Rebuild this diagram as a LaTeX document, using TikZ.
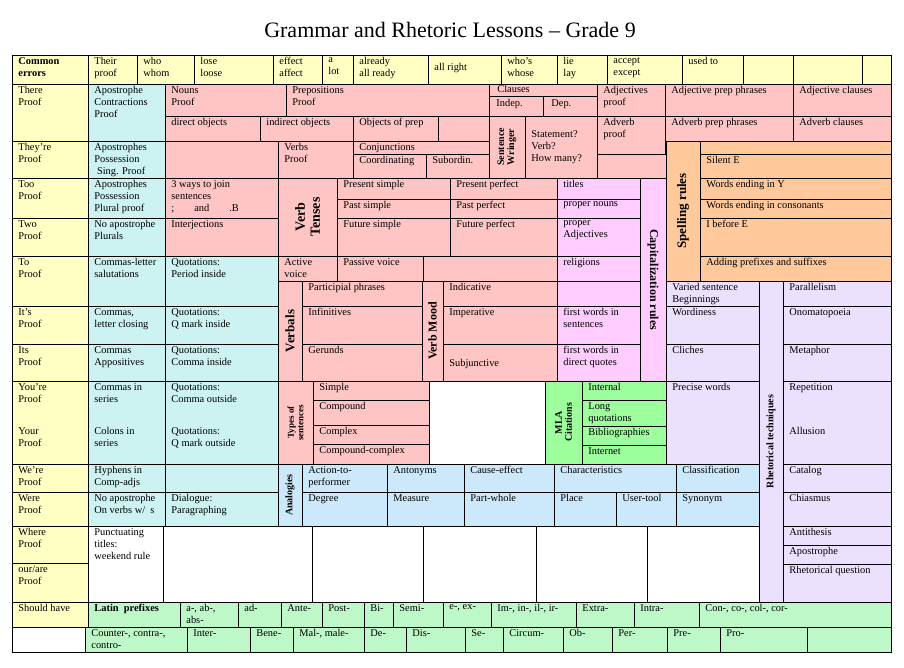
\documentclass[tikz,border=0pt]{standalone}
\usepackage{fontspec}
\setmainfont{Liberation Serif}
\definecolor{Y}{HTML}{FFFFC4}
\definecolor{C}{HTML}{CCF2F2}
\definecolor{P}{HTML}{FFC4C4}
\definecolor{M}{HTML}{FFCCFF}
\definecolor{O}{HTML}{FFC99B}
\definecolor{R}{HTML}{ECE0FF}
\definecolor{G}{HTML}{9CFF9C}
\definecolor{B}{HTML}{CCE9FC}
\definecolor{L}{HTML}{BEF8C8}
\newcommand\cell[6]{\filldraw[fill=#5] (#1,#2) rectangle (#3,#4); \node[txt] at (#1+6,#2+2) {#6};}
\newcommand\vcell[8]{\filldraw[fill=#5] (#1,#2) rectangle (#3,#4); \node[vtxt,rotate=#6,font=#8] at ({(#1+#3)/2},{(#2+#4)/2}) {#7};}
\newcommand\tx[3]{\node[txt] at (#1+6,#2+2) {#3};}
\begin{document}
\begin{tikzpicture}[x=1pt,y=-1pt,line width=0.8pt,
  txt/.style={anchor=north west,inner sep=0pt,align=left,font=\fontsize{10.4}{12}\selectfont},
  vtxt/.style={inner sep=0pt,align=center}]
\useasboundingbox (0,0) rectangle (904,667);
\node[font=\fontsize{22}{24}\selectfont] (title) at (450,30) {Grammar and Rhetoric Lessons -- Grade 9};
% header
\cell{12}{55}{88}{84}{Y}{\textbf{Common}\\\textbf{errors}}
\cell{88}{55}{137}{84}{Y}{Their\\proof}
\cell{137}{55}{194}{84}{Y}{who\\whom}
\cell{194}{55}{273}{84}{Y}{lose\\loose}
\cell{273}{55}{322}{84}{Y}{effect\\affect}
\cell{322}{55}{353}{84}{Y}{a\\lot}
\cell{353}{55}{428}{84}{Y}{already\\all ready}
\filldraw[fill=Y] (428,55) rectangle (501,84);
\tx{428}{61}{all right}
\cell{501}{55}{557}{84}{Y}{who’s\\whose}
\cell{557}{55}{607}{84}{Y}{lie\\lay}
\cell{607}{55}{682}{84}{Y}{accept\\except}
\cell{682}{55}{743}{84}{Y}{used to}
\cell{743}{55}{793}{84}{Y}{}
\cell{793}{55}{862}{84}{Y}{}
\cell{862}{55}{891}{84}{Y}{}
% col1
\cell{12}{84}{88}{141}{Y}{There\\Proof}
\cell{12}{141}{88}{178}{Y}{They’re\\Proof}
\cell{12}{178}{88}{218}{Y}{Too\\Proof}
\cell{12}{218}{88}{256}{Y}{Two\\Proof}
\cell{12}{256}{88}{306}{Y}{To\\Proof}
\cell{12}{306}{88}{344}{Y}{It’s\\Proof}
\cell{12}{344}{88}{381}{Y}{Its\\Proof}
\cell{12}{381}{88}{464}{Y}{You’re\\Proof}
\tx{12}{425}{Your\\Proof}
\cell{12}{464}{88}{492}{Y}{We’re\\Proof}
\cell{12}{492}{88}{526}{Y}{Were\\Proof}
\cell{12}{526}{88}{563}{Y}{Where\\Proof}
\cell{12}{563}{88}{602}{Y}{our/are\\Proof}
\cell{12}{602}{88}{627}{Y}{Should have}
\cell{12}{627}{85}{652}{white}{}
% col2
\cell{88}{84}{165}{141}{C}{Apostrophe\\Contractions\\Proof}
\cell{88}{141}{165}{178}{C}{Apostrophes\\Possession\\\ Sing. Proof}
\cell{88}{178}{165}{218}{C}{Apostrophes\\Possession\\Plural proof}
\cell{88}{218}{165}{256}{C}{No apostrophe\\Plurals}
\cell{88}{256}{165}{306}{C}{Commas-letter\\salutations}
\cell{88}{306}{165}{344}{C}{Commas,\\letter closing}
\cell{88}{344}{165}{381}{C}{Commas\\Appositives}
\cell{88}{381}{165}{464}{C}{Commas in\\series}
\tx{88}{425}{Colons in\\series}
\cell{88}{464}{165}{492}{C}{Hyphens in\\Comp-adjs}
\cell{88}{492}{165}{526}{C}{No apostrophe\\On verbs w/\ \ s}
\cell{88}{526}{163}{602}{white}{Punctuating\\titles:\\weekend rule}
% col3 cyan
\cell{165}{256}{278}{306}{C}{Quotations:\\Period inside}
\cell{165}{306}{278}{344}{C}{Quotations:\\Q mark inside}
\cell{165}{344}{278}{381}{C}{Quotations:\\Comma inside}
\cell{165}{381}{278}{464}{C}{Quotations:\\Comma outside}
\tx{165}{425}{Quotations:\\Q mark outside}
\cell{165}{464}{278}{492}{C}{}
\cell{165}{492}{278}{526}{C}{Dialogue:\\Paragraphing}
% pink top
\cell{165}{84}{286}{116}{P}{Nouns\\Proof}
\cell{286}{84}{489}{116}{P}{Prepositions\\Proof}
\filldraw[fill=P] (489,84) rectangle (597,96); \node[txt] at (497,85) {Clauses};
\filldraw[fill=P] (489,96) rectangle (543,116); \node[txt] at (496,99) {Indep.};
\filldraw[fill=P] (543,96) rectangle (597,116); \node[txt] at (551,99) {Dep.};
\cell{165}{116}{260}{141}{P}{direct objects}
\cell{260}{116}{353}{141}{P}{indirect objects}
\cell{353}{116}{438}{141}{P}{Objects of prep}
\cell{438}{116}{489}{141}{P}{}
\cell{165}{141}{278}{178}{P}{}
\cell{278}{141}{353}{178}{P}{Verbs\\Proof}
\cell{353}{141}{489}{154}{P}{Conjunctions}
\cell{353}{154}{426}{178}{P}{Coordinating}
\cell{426}{154}{489}{178}{P}{Subordin.}
\vcell{489}{116}{525}{178}{P}{90}{Sentence\\Wringer}{\fontsize{10}{10}\selectfont\bfseries}
\filldraw[fill=P] (525,116) rectangle (597,178); \tx{525}{128}{Statement?\\Verb?\\How many?}
\cell{597}{84}{665}{116}{P}{Adjectives\\proof}
\cell{665}{84}{793}{116}{P}{Adjective prep phrases}
\cell{793}{84}{891}{116}{P}{Adjective clauses}
\cell{597}{116}{665}{154}{P}{Adverb\\proof}
\cell{597}{154}{666}{178}{P}{}
\cell{665}{116}{793}{141}{P}{Adverb prep phrases}
\cell{793}{116}{891}{141}{P}{Adverb clauses}
% spelling
\vcell{666}{141}{700}{281}{O}{90}{Spelling rules}{\fontsize{13}{13}\selectfont\bfseries}
\cell{700}{141}{891}{154}{O}{}
\cell{700}{154}{891}{178}{O}{Silent E}
\cell{700}{178}{891}{199}{O}{Words ending in Y}
\cell{700}{199}{891}{218}{O}{Words ending in consonants}
\cell{700}{218}{891}{256}{O}{I before E}
\cell{700}{256}{891}{281}{O}{Adding prefixes and suffixes}
% tenses
\cell{165}{178}{278}{218}{P}{3 ways to join\\sentences\\;\hspace{20pt}and\hspace{20pt}.B}
\cell{165}{218}{278}{256}{P}{Interjections}
\vcell{278}{178}{337}{256}{P}{90}{Verb\\Tenses}{\fontsize{14}{15}\selectfont\bfseries}
\cell{337}{178}{450}{199}{P}{Present simple}
\cell{337}{199}{450}{218}{P}{Past simple}
\cell{337}{218}{450}{256}{P}{Future simple}
\cell{450}{178}{557}{199}{P}{Present perfect}
\cell{450}{199}{557}{218}{P}{Past perfect}
\cell{450}{218}{557}{256}{P}{Future perfect}
\cell{278}{256}{337}{281}{P}{Active\\voice}
\cell{337}{256}{423}{281}{P}{Passive voice}
\cell{423}{256}{557}{281}{P}{}
% capitalization
\cell{557}{178}{640}{199}{M}{titles}
\cell{557}{199}{640}{218}{M}{proper nouns}
\cell{557}{218}{640}{256}{M}{proper\\Adjectives}
\cell{557}{256}{640}{281}{M}{religions}
\cell{557}{281}{640}{306}{M}{}
\cell{557}{306}{640}{344}{M}{first words in\\sentences}
\cell{557}{344}{640}{381}{M}{first words in\\direct quotes}
\vcell{640}{178}{666}{381}{M}{-90}{Capitalization rules}{\fontsize{12}{12}\selectfont\bfseries}
% verbals / mood
\vcell{278}{281}{302}{381}{P}{90}{Verbals}{\fontsize{13}{13}\selectfont\bfseries}
\cell{302}{281}{422}{306}{P}{Participial phrases}
\cell{302}{306}{422}{344}{P}{Infinitives}
\cell{302}{344}{422}{381}{P}{Gerunds}
\vcell{422}{281}{443}{381}{P}{90}{Verb Mood}{\fontsize{12}{12}\selectfont\bfseries}
\cell{443}{281}{557}{306}{P}{Indicative}
\cell{443}{306}{557}{344}{P}{Imperative}
\filldraw[fill=P] (443,344) rectangle (557,381); \tx{443}{357}{Subjunctive}
% types
\vcell{278}{381}{313}{464}{P}{90}{Types of\\sentences}{\fontsize{9}{9.5}\selectfont\bfseries}
\cell{313}{381}{429}{400}{P}{Simple}
\cell{313}{400}{429}{425}{P}{Compound}
\cell{313}{425}{429}{444}{P}{Complex}
\cell{313}{444}{429}{464}{P}{Compound-complex}
\cell{429}{381}{545}{464}{white}{}
\vcell{545}{381}{582}{464}{G}{90}{MLA\\Citations}{\fontsize{10}{10}\selectfont\bfseries}
\cell{582}{381}{666}{400}{G}{Internal}
\cell{582}{400}{666}{426}{G}{Long\\quotations}
\cell{582}{426}{666}{445}{G}{Bibliographies}
\cell{582}{445}{666}{464}{G}{Internet}
% rhetorical
\cell{666}{281}{759}{306}{R}{Varied sentence\\Beginnings}
\cell{666}{306}{759}{344}{R}{Wordiness}
\cell{666}{344}{759}{381}{R}{Cliches}
\cell{666}{381}{759}{464}{R}{Precise words}
\vcell{759}{281}{783}{602}{R}{90}{Rhetorical techniques}{\fontsize{10}{10}\selectfont\bfseries}
\cell{783}{281}{891}{306}{R}{Parallelism}
\cell{783}{306}{891}{344}{R}{Onomatopoeia}
\cell{783}{344}{891}{381}{R}{Metaphor}
\cell{783}{381}{891}{464}{R}{Repetition}
\tx{783}{425}{Allusion}
\cell{783}{464}{891}{492}{R}{Catalog}
\cell{783}{492}{891}{526}{R}{Chiasmus}
\cell{783}{526}{891}{545}{R}{Antithesis}
\cell{783}{545}{891}{564}{R}{Apostrophe}
\cell{783}{564}{891}{602}{R}{Rhetorical question}
% analogies
\vcell{278}{464}{302}{526}{B}{90}{Analogies}{\fontsize{10}{10}\selectfont\bfseries}
\cell{302}{464}{387}{492}{B}{Action-to-\\performer}
\cell{387}{464}{464}{492}{B}{Antonyms}
\cell{464}{464}{554}{492}{B}{Cause-effect}
\cell{554}{464}{676}{492}{B}{Characteristics}
\cell{676}{464}{759}{492}{B}{Classification}
\cell{302}{492}{387}{526}{B}{Degree}
\cell{387}{492}{464}{526}{B}{Measure}
\cell{464}{492}{554}{526}{B}{Part-whole}
\cell{554}{492}{616}{526}{B}{Place}
\cell{616}{492}{676}{526}{B}{User-tool}
\cell{676}{492}{759}{526}{B}{Synonym}
% white row
\cell{163}{526}{312}{602}{white}{}
\cell{312}{526}{423}{602}{white}{}
\cell{423}{526}{536}{602}{white}{}
\cell{536}{526}{647}{602}{white}{}
\cell{647}{526}{759}{602}{white}{}
% latin prefixes
\cell{88}{602}{180}{627}{L}{\textbf{Latin\ \ prefixes}}
\cell{180}{602}{238}{627}{L}{a-, ab-,\\abs-}
\cell{238}{602}{281}{627}{L}{ad-}
\cell{281}{602}{322}{627}{L}{Ante-}
\cell{322}{602}{364}{627}{L}{Post-}
\cell{364}{602}{393}{627}{L}{Bi-}
\cell{393}{602}{443}{627}{L}{Semi-}
\cell{443}{602}{491}{627}{L}{e-, ex-}
\cell{491}{602}{576}{627}{L}{Im-, in-, il-, ir-}
\cell{576}{602}{634}{627}{L}{Extra-}
\cell{634}{602}{699}{627}{L}{Intra-}
\cell{699}{602}{891}{627}{L}{Con-, co-, col-, cor-}
\cell{85}{627}{187}{652}{L}{Counter-, contra-,\\contro-}
\cell{187}{627}{250}{652}{L}{Inter-}
\cell{250}{627}{293}{652}{L}{Bene-}
\cell{293}{627}{364}{652}{L}{Mal-, male-}
\cell{364}{627}{406}{652}{L}{De-}
\cell{406}{627}{465}{652}{L}{Dis-}
\cell{465}{627}{503}{652}{L}{Se-}
\cell{503}{627}{563}{652}{L}{Circum-}
\cell{563}{627}{612}{652}{L}{Ob-}
\cell{612}{627}{667}{652}{L}{Per-}
\cell{667}{627}{720}{652}{L}{Pre-}
\cell{720}{627}{807}{652}{L}{Pro-}
\cell{807}{627}{891}{652}{L}{}
\end{tikzpicture}
\end{document}
